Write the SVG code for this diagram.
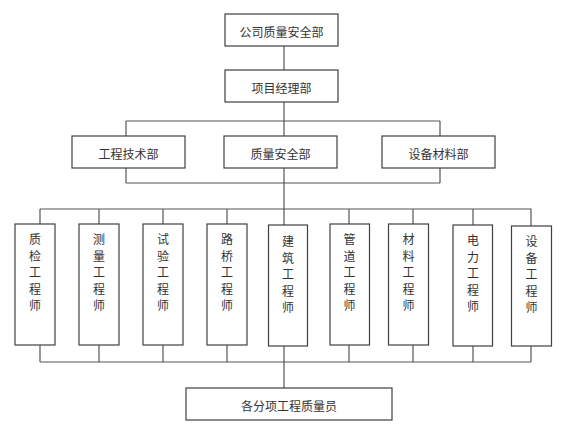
<svg xmlns="http://www.w3.org/2000/svg" width="576" height="432" viewBox="0 0 576 432">
<style>
.box{fill:#fff;stroke:#404040;stroke-width:1.2}
.ln{fill:none;stroke:#555;stroke-width:1.2}
text{font-family:"Noto Sans CJK SC","Noto Sans CJK JP",sans-serif;font-size:12px;fill:#333;text-anchor:middle;dominant-baseline:central}
</style>
<rect width="576" height="432" fill="#fff"/>
<g id="connectors">
<path class="ln" d="M284,46V70M284,102V121M126,121H440M126,121V136M284,121V136M440,121V136"/>
<path class="ln" d="M126,168V183M284,168V209M440,168V183M126,183H440"/>
<path class="ln" d="M40,209H531V226M40,209V224M99,209V224M163,209V224M227,209V224M284,209V225M349,209V224M413,209V224M473,209V225"/>
<path class="ln" d="M40,345V362M99,345V362M163,345V362M227,345V362M284,346V388M349,345V362M413,345V362M473,346V362M531,346V362M40,362H531"/>
</g>
<g id="n-company"><rect class="box" x="225" y="14" width="113" height="32"/><text x="281.5" y="31">公司质量安全部</text></g>
<g id="n-project"><rect class="box" x="225" y="70" width="113" height="32"/><text x="281.5" y="87">项目经理部</text></g>
<g id="n-tech"><rect class="box" x="72" y="136" width="113" height="32"/><text x="128.5" y="153">工程技术部</text></g>
<g id="n-quality"><rect class="box" x="224" y="136" width="113" height="32"/><text x="280.5" y="153">质量安全部</text></g>
<g id="n-equip"><rect class="box" x="382" y="136" width="113" height="32"/><text x="438.5" y="153">设备材料部</text></g>
<g id="e1"><rect class="box" x="15" y="224" width="40" height="121"/><text><tspan x="35" y="238">质</tspan><tspan x="35" dy="16.5">检</tspan><tspan x="35" dy="16.5">工</tspan><tspan x="35" dy="16.5">程</tspan><tspan x="35" dy="16.5">师</tspan></text></g>
<g id="e2"><rect class="box" x="79" y="224" width="40" height="121"/><text><tspan x="99" y="238">测</tspan><tspan x="99" dy="16.5">量</tspan><tspan x="99" dy="16.5">工</tspan><tspan x="99" dy="16.5">程</tspan><tspan x="99" dy="16.5">师</tspan></text></g>
<g id="e3"><rect class="box" x="143" y="224" width="40" height="121"/><text><tspan x="163" y="238">试</tspan><tspan x="163" dy="16.5">验</tspan><tspan x="163" dy="16.5">工</tspan><tspan x="163" dy="16.5">程</tspan><tspan x="163" dy="16.5">师</tspan></text></g>
<g id="e4"><rect class="box" x="207" y="224" width="40" height="121"/><text><tspan x="227" y="238">路</tspan><tspan x="227" dy="16.5">桥</tspan><tspan x="227" dy="16.5">工</tspan><tspan x="227" dy="16.5">程</tspan><tspan x="227" dy="16.5">师</tspan></text></g>
<g id="e5"><rect class="box" x="268.5" y="225" width="39" height="121"/><text><tspan x="288" y="240">建</tspan><tspan x="288" dy="16.5">筑</tspan><tspan x="288" dy="16.5">工</tspan><tspan x="288" dy="16.5">程</tspan><tspan x="288" dy="16.5">师</tspan></text></g>
<g id="e6"><rect class="box" x="330" y="224" width="39.5" height="121"/><text><tspan x="349.5" y="238">管</tspan><tspan x="349.5" dy="16.5">道</tspan><tspan x="349.5" dy="16.5">工</tspan><tspan x="349.5" dy="16.5">程</tspan><tspan x="349.5" dy="16.5">师</tspan></text></g>
<g id="e7"><rect class="box" x="388.5" y="224" width="40" height="121"/><text><tspan x="408.5" y="238">材</tspan><tspan x="408.5" dy="16.5">料</tspan><tspan x="408.5" dy="16.5">工</tspan><tspan x="408.5" dy="16.5">程</tspan><tspan x="408.5" dy="16.5">师</tspan></text></g>
<g id="e8"><rect class="box" x="453" y="225" width="39.5" height="121"/><text><tspan x="473" y="239">电</tspan><tspan x="473" dy="16.5">力</tspan><tspan x="473" dy="16.5">工</tspan><tspan x="473" dy="16.5">程</tspan><tspan x="473" dy="16.5">师</tspan></text></g>
<g id="e9"><rect class="box" x="511.5" y="226" width="40" height="120"/><text><tspan x="531.5" y="240">设</tspan><tspan x="531.5" dy="16.5">备</tspan><tspan x="531.5" dy="16.5">工</tspan><tspan x="531.5" dy="16.5">程</tspan><tspan x="531.5" dy="16.5">师</tspan></text></g>
<g id="n-inspectors"><rect class="box" x="186" y="388" width="206" height="32"/><text x="289" y="405">各分项工程质量员</text></g>
</svg>
